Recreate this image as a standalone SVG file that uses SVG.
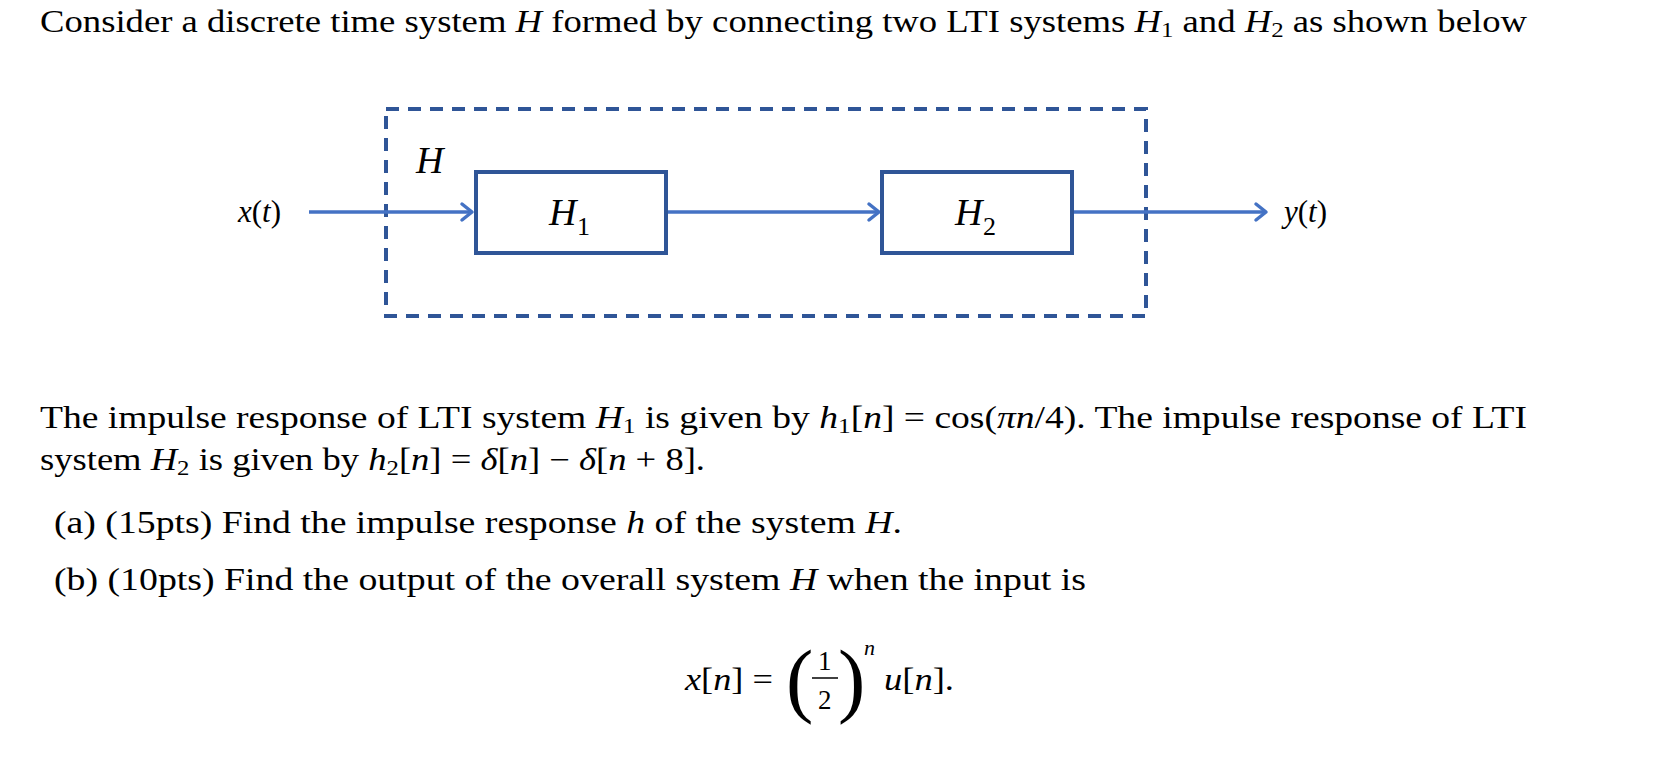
<svg xmlns="http://www.w3.org/2000/svg" width="1653" height="766" viewBox="0 0 1653 766">
<style>
text{font-family:"Liberation Serif","DejaVu Serif",serif;fill:#000}
.t{font-size:31px}
.i{font-style:italic}
.box{fill:#fff;stroke:#2f5597;stroke-width:4}
.c{stroke:#4472c4;stroke-width:3.5;fill:none}
.ah{stroke:#4472c4;stroke-width:3.5;fill:none;stroke-linecap:round;stroke-linejoin:round}
</style>
<rect width="1653" height="766" fill="#fff"/>
<text class="t" x="40" y="32" textLength="1487" lengthAdjust="spacingAndGlyphs">Consider a discrete time system <tspan class="i">H</tspan> formed by connecting two LTI systems <tspan class="i">H</tspan><tspan font-size="21" dy="5">1</tspan><tspan dy="-5"> and </tspan><tspan class="i">H</tspan><tspan font-size="21" dy="5">2</tspan><tspan dy="-5"> as shown below</tspan></text>
<g id="boundary"><rect x="386" y="109" width="760" height="207" fill="none" stroke="#2f5597" stroke-width="4" stroke-dasharray="13 9"/><text x="416" y="173" font-size="38" class="i">H</text></g>
<g id="connectors">
<path class="c" d="M309 212 H472"/><path class="ah" d="M462 204 L472 212 L462 220"/>
<path class="c" d="M666 212 H879"/><path class="ah" d="M869 204 L879 212 L869 220"/>
<path class="c" d="M1072 212 H1266"/><path class="ah" d="M1256 204 L1266 212 L1256 220"/>
</g>
<g id="x"><text x="238" y="222" font-size="31"><tspan class="i">x</tspan>(<tspan class="i">t</tspan>)</text></g>
<g id="y"><text x="1284" y="222" font-size="31"><tspan class="i">y</tspan>(<tspan class="i">t</tspan>)</text></g>
<g id="H1"><rect class="box" x="476" y="172" width="190" height="81"/><text x="549" y="225" font-size="38" class="i">H</text><text x="577" y="235" font-size="26">1</text></g>
<g id="H2"><rect class="box" x="882" y="172" width="190" height="81"/><text x="955" y="225" font-size="38" class="i">H</text><text x="983" y="235" font-size="26">2</text></g>
<text class="t" x="40" y="428" textLength="1487" lengthAdjust="spacingAndGlyphs">The impulse response of LTI system <tspan class="i">H</tspan><tspan font-size="21" dy="5">1</tspan><tspan dy="-5"> is given by </tspan><tspan class="i">h</tspan><tspan font-size="21" dy="5">1</tspan><tspan dy="-5">[</tspan><tspan class="i">n</tspan>] = cos(<tspan class="i">πn</tspan>/4). The impulse response of LTI</text>
<text class="t" x="40" y="470" textLength="665" lengthAdjust="spacingAndGlyphs">system <tspan class="i">H</tspan><tspan font-size="21" dy="5">2</tspan><tspan dy="-5"> is given by </tspan><tspan class="i">h</tspan><tspan font-size="21" dy="5">2</tspan><tspan dy="-5">[</tspan><tspan class="i">n</tspan>] = <tspan class="i">δ</tspan>[<tspan class="i">n</tspan>] − <tspan class="i">δ</tspan>[<tspan class="i">n</tspan> + 8].</text>
<text class="t" x="54" y="533" textLength="848" lengthAdjust="spacingAndGlyphs">(a)  (15pts) Find the impulse response <tspan class="i">h</tspan> of the system <tspan class="i">H</tspan>.</text>
<text class="t" x="54" y="590" textLength="1032" lengthAdjust="spacingAndGlyphs">(b)  (10pts) Find the output of the overall system <tspan class="i">H</tspan> when the input is</text>
<g id="formula">
<text class="t" x="685" y="690" textLength="88" lengthAdjust="spacingAndGlyphs"><tspan class="i">x</tspan>[<tspan class="i">n</tspan>] =</text>
<text x="786" y="707" font-size="82">(</text>
<text x="818" y="670" font-size="27">1</text>
<line x1="812" y1="678" x2="838" y2="678" stroke="#000" stroke-width="1.5"/>
<text x="818" y="709" font-size="27">2</text>
<text x="838" y="707" font-size="82">)</text>
<text x="864" y="655" font-size="22" class="i">n</text>
<text class="t" x="884" y="690" textLength="70" lengthAdjust="spacingAndGlyphs"><tspan class="i">u</tspan>[<tspan class="i">n</tspan>].</text>
</g>
</svg>
